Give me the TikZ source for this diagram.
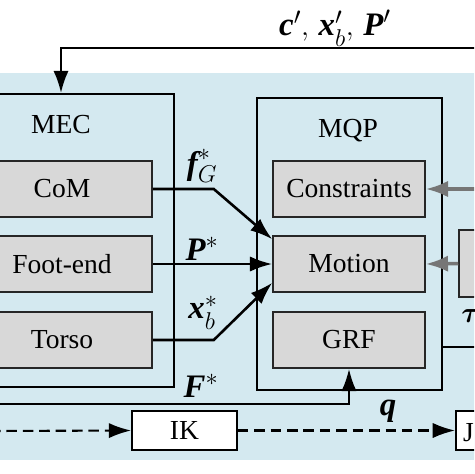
\documentclass[tikz,border=0pt]{standalone}
\usepackage{fontspec}
\setmainfont{Liberation Serif}
\usepackage{amsmath}
\usetikzlibrary{arrows.meta,calc}
\definecolor{bgblue}{RGB}{212,233,240}
\definecolor{boxgray}{RGB}{216,216,216}
\definecolor{linegray}{RGB}{118,118,118}
\newcommand{\pxu}{0.03cm}
\newcommand{\bfit}[1]{\mbox{\bfseries\itshape #1}}
\begin{document}
\begin{tikzpicture}[x=\pxu, y=-\pxu, font=\fontsize{23.5}{28}\selectfont,
    block/.style={rectangle,draw=black!85,fill=boxgray,line width=1.3pt,minimum width=152*\pxu,minimum height=56*\pxu,inner sep=0pt},
    frame/.style={rectangle,draw,line width=1.5pt,inner sep=0pt},
    plain box/.style={rectangle,draw,fill=white,line width=1.5pt,minimum height=39*\pxu,inner sep=0pt},
    sig/.style={-{Latex[length=19pt,width=13pt]},line width=2.2pt},
    fb/.style={-{Latex[length=19pt,width=14pt]},draw=linegray,line width=3pt},
    sym/.style={font=\fontsize{28}{32}\selectfont}]
\useasboundingbox (0,0) rectangle (474,474);
\clip (0,0) rectangle (474,474);
\fill [bgblue] (-5,73) rectangle (480,460);

% the two frames
\node [frame,minimum width=214*\pxu,minimum height=293*\pxu](mec) at (67,240.5) {};
\node [frame,minimum width=185*\pxu,minimum height=292*\pxu](mqp) at (349.5,244) {};
\node [anchor=base](mec label) at (61,133) {MEC};
\node [anchor=base](mqp label) at (348,137) {MQP};

% boxes
\node [block,minimum width=180*\pxu](com) at (62,189) {CoM};
\node [block,minimum width=180*\pxu](foot) at (62,264) {Foot-end};
\node [block,minimum width=180*\pxu](torso) at (62,340) {Torso};
\node [block](cons) at (349,189) {Constraints};
\node [block](motion) at (349,264) {Motion};
\node [block](grf) at (349,340) {GRF};
\node [block,minimum width=71*\pxu,minimum height=67*\pxu](ext) at (494.5,263.5) {};
\node [plain box,minimum width=105*\pxu](ik) at (184.5,430.5) {IK};
\node [plain box,minimum width=64*\pxu,anchor=west](jnt) at (455,430.5) {};
\node [anchor=base west,inner sep=0pt](jnt label) at (463,441) {J};

\coordinate (fbin) at (490,48);
\coordinate (fbturn) at (61,48);
\coordinate (fin) at (-10,404);
\coordinate (qin) at (-10,431);
\coordinate (cin) at (490,189);
\coordinate (mqpout) at (490,347);

% signals
\draw [sig] (fbin) -- (fbturn) -- (fbturn |- mec.north);
\draw [sig] (com.east) -- ++(61,0) -- ($(motion.north west)+(0,4)$);
\draw [sig] (foot.east) -- (motion.west);
\draw [sig] (torso.east) -- ++(61,0) -- ($(motion.south west)+(0,-10)$);
\draw [sig] (fin) -| (grf.south);
\path
    (qin) edge[sig,dash pattern=on 9pt off 5pt,line width=1.8pt] (ik.west)
    (ik.east) edge[sig,dash pattern=on 9pt off 5pt,line width=1.8pt] (jnt.west)
    (cin) edge[fb] (cons.east)
    (ext.west) edge[fb] (motion.east)
    ;
\draw [line width=1.5pt] (mqp.east |- mqpout) -- (mqpout);

% labels
\node [sym](fb label) at (335,28) {$\bfit{c}',\,\bfit{x}'_{b},\,\bfit{P}'$};
\node [sym](fg label) at (202,166) {$\bfit{f}^{*}_{G}$};
\node [sym](p label) at (202,249) {$\bfit{P}^{*}$};
\node [sym](xb label) at (203,313) {$\bfit{x}^{*}_{b}$};
\node [sym](f label) at (201,386) {$\bfit{F}^{*}$};
\node [sym](q label) at (388,411) {$\bfit{q}$};
\node [sym](tau label) at (471,316) {$\boldsymbol{\tau}$};
\end{tikzpicture}
\end{document}
